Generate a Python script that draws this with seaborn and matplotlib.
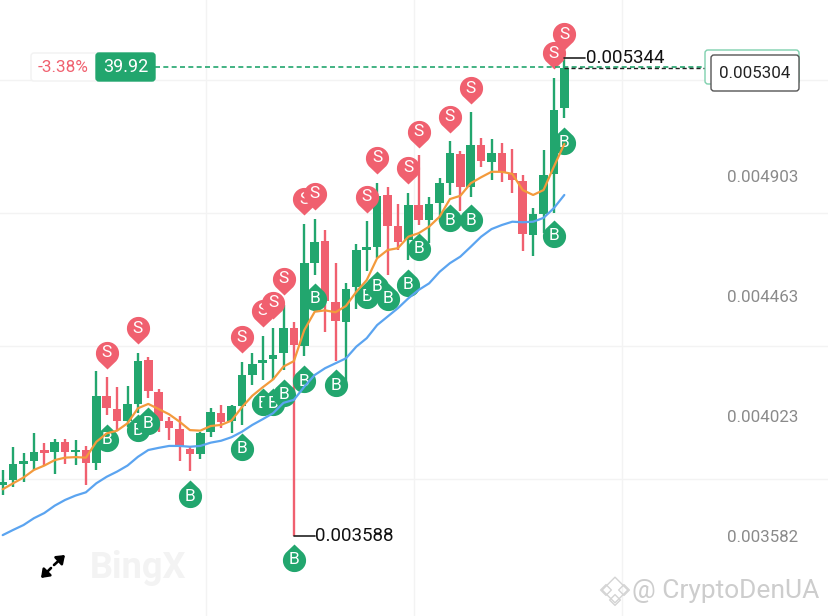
import numpy as np
import pandas as pd
import seaborn as sns
import matplotlib
matplotlib.use('Agg')
import matplotlib.pyplot as plt
from matplotlib.path import Path
from matplotlib.patches import FancyBboxPatch
from matplotlib.transforms import ScaledTranslation

# prices are kept in millionths, 4903 = 0.004903
open_p = [3777,3795,3853,3864,3904,3897,3936,3899,3904,3859,4103,4057,4013,4074,4234,4118,4011,3982,3910,3892,3971,4041,4010,4066,4181,4224,4239,4262,4354,4288,4592,4672,4449,4375,4502,4639,4648,4840,4727,4675,4803,4748,4809,4885,4989,4870,5022,4960,4994,4920,4892,4695,4769,4917,5158]
high_p = [3832,3917,3893,3966,3930,3944,3944,3942,3921,4196,4171,4135,4140,4259,4247,4129,4027,4031,3921,3972,4058,4070,4069,4226,4259,4324,4354,4437,4374,4734,4752,4712,4590,4519,4661,4743,4883,4868,4806,4849,4987,4834,4901,5039,5002,5143,5048,5044,5029,5008,4913,4791,5005,5268,5344]
low_p = [3740,3771,3789,3832,3850,3817,3854,3850,3777,3832,4033,3978,3991,4040,4095,3972,3942,3865,3829,3871,3952,3985,3969,3998,4143,4162,4162,4199,3588,4251,4547,4337,4233,4150,4422,4562,4608,4547,4639,4602,4730,4663,4740,4840,4783,4834,4941,4895,4889,4846,4635,4617,4699,4773,5121]
close_p = [3789,3854,3864,3899,3893,3936,3898,3904,3856,4103,4060,4013,4075,4231,4121,4013,3985,3917,3890,3966,4044,4008,4065,4180,4220,4234,4254,4354,4290,4590,4669,4452,4378,4495,4639,4651,4837,4727,4669,4802,4748,4806,4883,4993,4868,5022,4965,4994,4923,4895,4697,4770,4913,5151,5304]
ema_fast = [3761,3783,3804,3832,3848,3868,3877,3879,3877,3935,3966,3976,4003,4058,4074,4055,4036,4009,3978,3976,3993,3997,4013,4062,4104,4135,4164,4211,4231,4345,4412,4417,4410,4433,4485,4528,4608,4638,4645,4687,4700,4724,4760,4825,4837,4883,4905,4925,4925,4917,4858,4840,4858,4944,5027]
ema_slow = [3593,3612,3630,3655,3674,3701,3722,3738,3750,3783,3807,3826,3848,3880,3905,3913,3920,3920,3917,3920,3932,3939,3952,3972,3997,4018,4040,4078,4089,4137,4180,4205,4223,4241,4284,4315,4363,4394,4425,4461,4492,4516,4558,4590,4614,4650,4687,4715,4730,4742,4740,4742,4756,4792,4840]

sell_idx = [10,13,23,25,26,27,29,30,35,36,39,40,43,45,53,54]
sell_price = [4261,4352,4319,4415,4444,4532,4825,4844,4833,4976,4939,5071,5126,5232,5360,5430]
buy_idx = [10,13,14,18,23,25,26,27,28,29,30,32,35,36,37,39,40,43,45,53,54]
buy_price = [3942,3978,4004,3736,3909,4074,4074,4107,3502,4158,4459,4142,4466,4503,4459,4510,4642,4748,4748,4690,5032]

axis_prices = [3582,4023,4463,4903]
axis_labels = ['0.003582','0.004023','0.004463','0.004903']
grid_prices = [3799,4286,4774,5261]
grid_idx = [19.5,39.5,59.5]
last_price = 5304
order_price = 5309

GREEN = '#22a66e'
RED = '#f0606f'
ORANGE = '#f39a3c'
BLUE = '#5ba4f0'
U = 1e-6

df = pd.DataFrame({'i': range(len(open_p)), 'open': open_p, 'high': high_p, 'low': low_p, 'close': close_p,
                   'fast': ema_fast, 'slow': ema_slow})
for c in ['open', 'high', 'low', 'close', 'fast', 'slow']:
    df[c] = df[c] * U
df['color'] = np.where(df['close'] >= df['open'], GREEN, RED)

sns.set_theme(style='white')
plt.rcParams['font.family'] = ['Roboto', 'DejaVu Sans']

fig = plt.figure(figsize=(8.29, 6.16), dpi=100)
ax = fig.add_axes([0, 0, 1, 1])
ax.set_xlim(-0.26, 79.45)
ax.set_ylim(3296.5 * U, 5554.8 * U)
for s in ax.spines.values():
    s.set_visible(False)

ax.hlines(np.array(grid_prices) * U, -1, 80, color='#f3f3f3', lw=1, zorder=0)
ax.vlines(grid_idx, 3000 * U, 6000 * U, color='#f3f3f3', lw=1, zorder=0)

ax.vlines(df['i'], df['low'], df['high'], color=df['color'], lw=1.7, zorder=2)
ax.bar(df['i'], (df['close'] - df['open']).abs(), bottom=df[['open', 'close']].min(axis=1),
       width=0.82, color=df['color'], linewidth=0, zorder=3)


def drop(up):
    # circle with a point, up for buys and down for sells
    start = 130 if up else -50
    arc = Path.arc(start - 360 if up else start, 50 if up else 230)
    tip = [0, 1.38] if up else [0, -1.38]
    verts = np.vstack([arc.vertices, tip, tip])
    codes = list(arc.codes) + [Path.LINETO, Path.CLOSEPOLY]
    return Path(verts, codes)


z = 4.0
for idx, price, up, col, letter in sorted(
        [(i, p, True, GREEN, 'B') for i, p in zip(buy_idx, buy_price)] +
        [(i, p, False, RED, 'S') for i, p in zip(sell_idx, sell_price)], key=lambda r: r[0]):
    sns.scatterplot(x=[idx], y=[price * U], marker=drop(up), s=530, color=col, linewidth=0,
                    zorder=z, ax=ax, legend=False, clip_on=False)
    ax.text(idx, price * U, letter, color='white', fontsize=12.5, ha='center', va='center', zorder=z + 0.1)
    z += 0.2

sns.lineplot(data=df, x='i', y='slow', color=BLUE, lw=1.6, ax=ax, zorder=20, legend=False)
sns.lineplot(data=df, x='i', y='fast', color=ORANGE, lw=1.6, ax=ax, zorder=21, legend=False)

# last price and order lines
ax.hlines(order_price * U, 14.6, 67.5, color=GREEN, lw=1.2, linestyles=(0, (3, 2)), zorder=22)
ax.hlines(last_price * U, 54, 68, color='#222222', lw=1, linestyles=(0, (3, 2)), zorder=22)

# high and low leaders
hi = df['high'].idxmax()
lo = df['low'].idxmin()
ax.plot([hi, hi + 2], [df['high'][hi]] * 2, color='#222222', lw=1.2, zorder=22)
ax.plot([lo, lo + 2], [df['low'][lo]] * 2, color='#222222', lw=1.2, zorder=22)
ax.text(hi + 2.05, df['high'][hi], '0.005344', fontsize=13.5, color='#111111', va='center', ha='left', zorder=22)
ax.text(lo + 2.05, df['low'][lo], '0.003588', fontsize=13.5, color='#111111', va='center', ha='left', zorder=22)

ax.set_xticks([])
ax.yaxis.tick_right()
ax.set_yticks(np.array(axis_prices) * U)
ax.set_yticklabels(axis_labels, color='#8a8a8a', fontsize=12.2)
ax.tick_params(axis='y', length=0, pad=-73.5)
for lab in ax.get_yticklabels():
    lab.set_transform(lab.get_transform() + ScaledTranslation(0, 1.5 / 72, fig.dpi_scale_trans))
ax.set_xlabel('')
ax.set_ylabel('')

# overlay in pixels for the label boxes, icon and watermarks
ov = fig.add_axes([0, 0, 1, 1], facecolor='none')
ov.set_xlim(0, 829)
ov.set_ylim(616, 0)
ov.axis('off')


def box(x0, y0, x1, y1, face, edge, r=3, lw=1.0):
    ov.add_patch(FancyBboxPatch((x0 + r, y0 + r), x1 - x0 - 2 * r, y1 - y0 - 2 * r,
                                boxstyle='round,pad=%g,rounding_size=%g' % (r, r),
                                fc=face, ec=edge, lw=lw))


box(31, 53, 100, 81, 'white', '#f2f2f2')
box(96, 53, 155, 81, GREEN, GREEN)
ov.text(63, 67.5, '-3.38%', color=RED, fontsize=12.3, ha='center', va='center')
ov.text(125.5, 67.5, '39.92', color='white', fontsize=13, ha='center', va='center')
box(705, 50, 799, 84, 'white', '#7fd0ae')
box(711, 55, 799, 91, 'white', '#555555')
ov.text(755, 73, '0.005304', color='#222222', fontsize=12.2, ha='center', va='center')

ov.annotate('', xy=(65, 555), xytext=(54, 565),
            arrowprops=dict(arrowstyle='-|>,head_width=0.28,head_length=0.38', color='black', lw=1.9, shrinkA=0, shrinkB=0))
ov.annotate('', xy=(41, 578), xytext=(51, 568),
            arrowprops=dict(arrowstyle='-|>,head_width=0.28,head_length=0.38', color='black', lw=1.9, shrinkA=0, shrinkB=0))

ov.text(90, 568, 'BingX', color='#f3f3f3', fontsize=26, fontweight='bold', ha='left', va='center')
ov.text(632, 591, '@ CryptoDenUA', color='#cdcdcd', fontsize=19, ha='left', va='center')
for dx, dy, sz in [(615, 590, 170), (606, 590, 30), (624, 590, 30), (615, 600, 30)]:
    ov.scatter([dx], [dy], marker='D', s=sz, facecolor='none', edgecolor='#d4d4d4', linewidth=1)

fig.savefig('out.png', dpi=100)
